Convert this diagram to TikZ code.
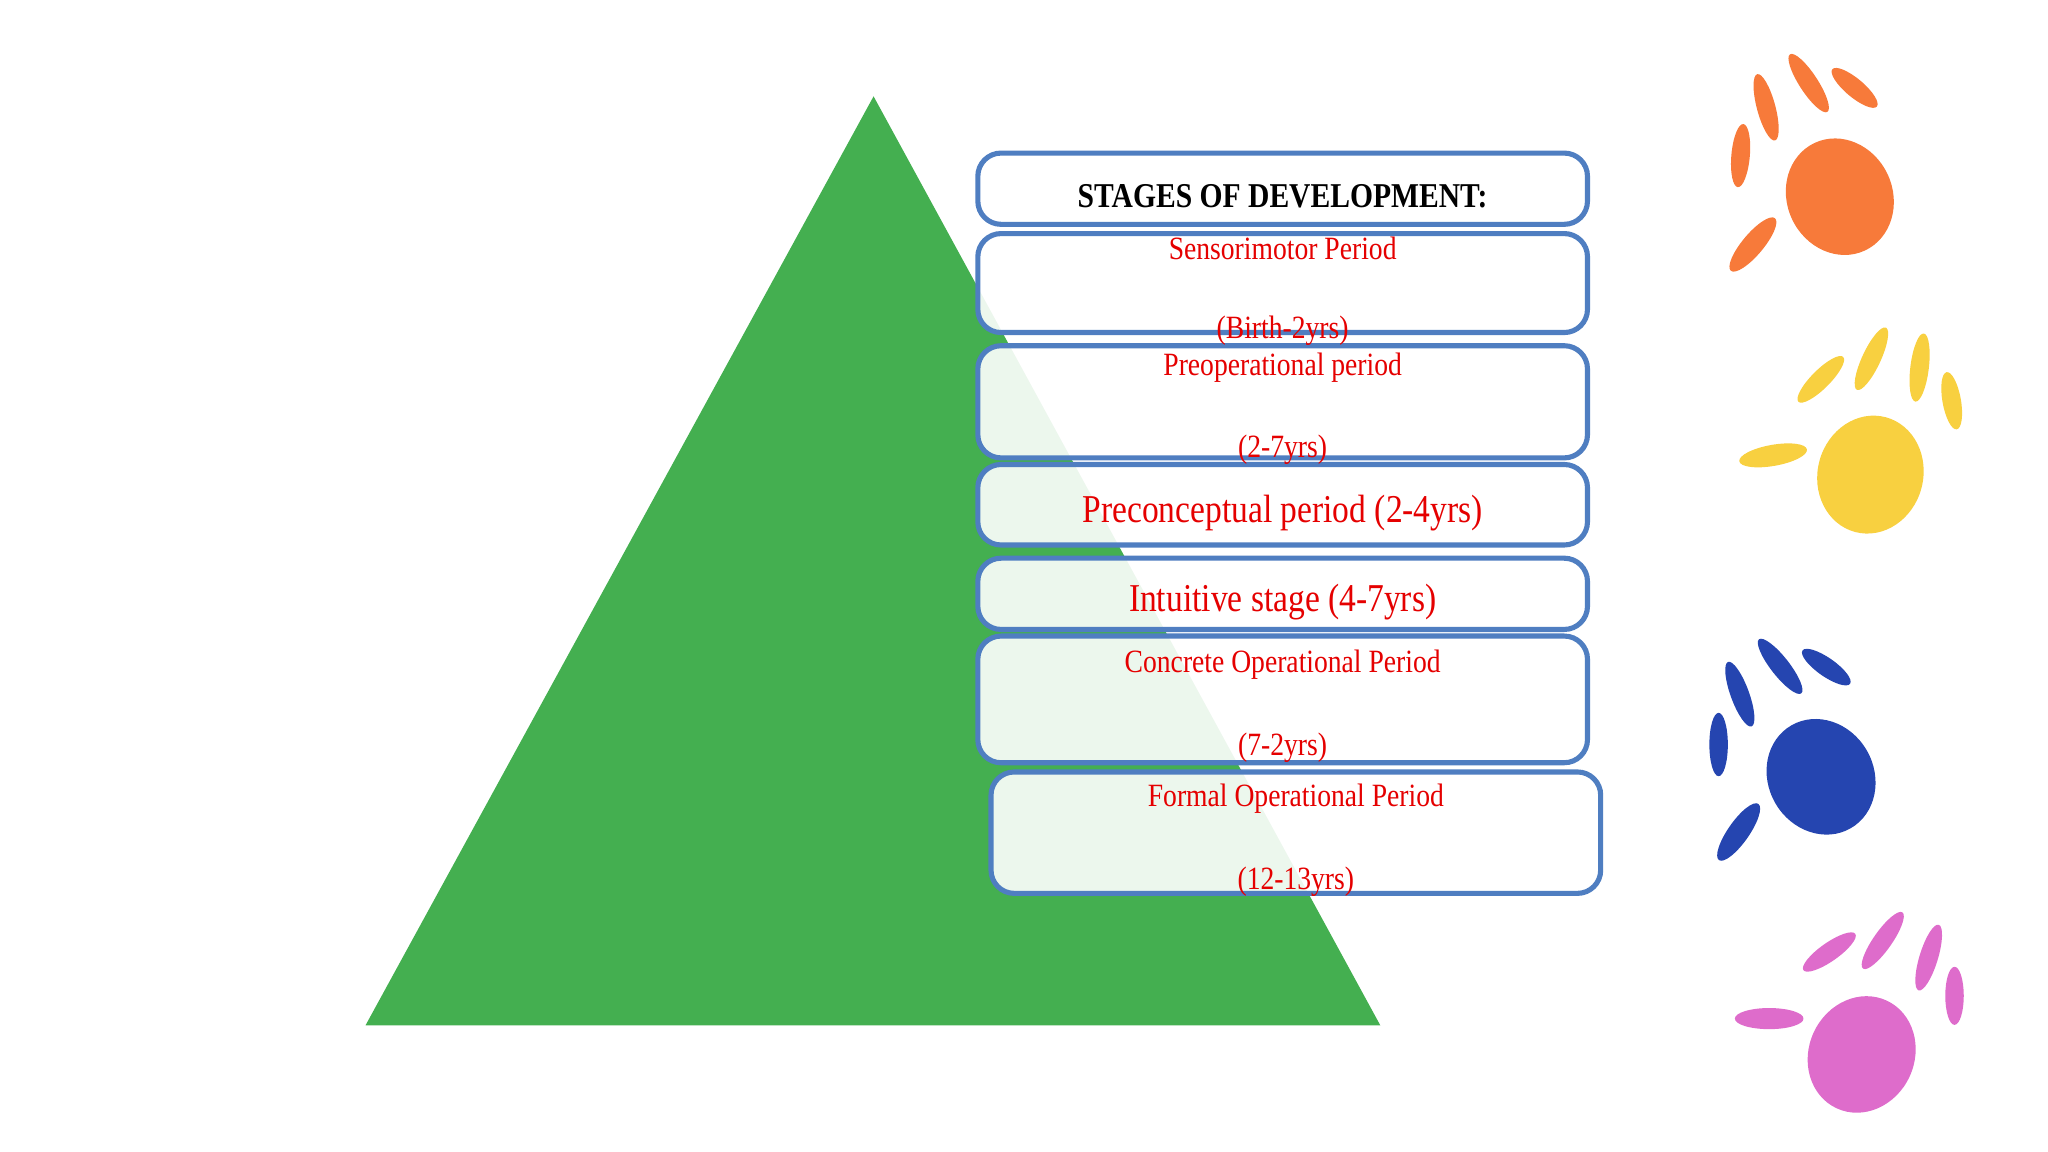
\documentclass[tikz,border=0pt]{standalone}
\usepackage{fontspec}
\setmainfont{Liberation Serif}
\begin{document}
\begin{tikzpicture}[x=0.01cm,y=-0.01cm,
  stagebox/.style={draw=boxblue,line width=1.1pt,rounded corners=5pt,fill=white,fill opacity=0.9},
  redt/.style={text=red!90!black,font=\fontsize{7}{8}\selectfont,xscale=0.85},
  bigt/.style={text=red!90!black,font=\fontsize{8.5}{9}\selectfont,xscale=0.85}]
\definecolor{boxblue}{HTML}{4F7EC1}
\definecolor{pgreen}{HTML}{44AF50}
\definecolor{horange}{HTML}{F77A3A}
\definecolor{hyellow}{HTML}{F8D040}
\definecolor{hblue}{HTML}{2545B0}
\definecolor{hpink}{HTML}{DE6CCB}
\useasboundingbox (0,0) rectangle (1552,873);
\fill[pgreen] (662,73) -- (1046,777) -- (277,777) -- cycle;
\draw[stagebox] (741,116) rectangle (1203,170);
\draw[stagebox] (741,177) rectangle (1203,252);
\draw[stagebox] (741,262) rectangle (1203,347);
\draw[stagebox] (741,352) rectangle (1203,413);
\draw[stagebox] (741,423) rectangle (1203,477);
\draw[stagebox] (741,482) rectangle (1203,578);
\draw[stagebox] (751,585) rectangle (1213,677);
\node[font=\bfseries\fontsize{7.5}{8}\selectfont,xscale=0.85] (t1) at (972,149) {STAGES OF DEVELOPMENT:};
\node[redt] (t2a) at (972,188) {Sensorimotor Period};
\node[redt] (t2b) at (972,251) {(Birth-2yrs)};
\node[redt] (t3a) at (972,279) {Preoperational period};
\node[redt] (t3b) at (972,341) {(2-7yrs)};
\node[bigt] (t4) at (972,389) {Preconceptual period (2-4yrs)};
\node[bigt] (t5) at (972,456) {Intuitive stage (4-7yrs)};
\node[redt] (t6a) at (972,504) {Concrete Operational Period};
\node[redt] (t6b) at (972,567) {(7-2yrs)};
\node[redt] (t7a) at (982,605) {Formal Operational Period};
\node[redt] (t7b) at (982,668) {(12-13yrs)};
% hands
\foreach \cx/\cy/\rot/\col in {1390/140/25/horange,1420/350/-15/hyellow,1375/580/30/hblue,1415/790/-25/hpink}{
 \begin{scope}[shift={(\cx,\cy)},rotate=\rot]
  \fill[\col] (0,10) ellipse (40 and 45);
  \fill[\col,rotate around={-30:(-55,-50)}] (-55,-50) ellipse (7 and 24);
  \fill[\col,rotate around={-10:(-22,-75)}] (-22,-75) ellipse (7 and 26);
  \fill[\col,rotate around={8:(15,-78)}] (15,-78) ellipse (7 and 26);
  \fill[\col,rotate around={25:(45,-60)}] (45,-60) ellipse (7 and 22);
  \fill[\col,rotate around={-65:(-75,15)}] (-75,15) ellipse (8 and 26);
 \end{scope}}
\end{tikzpicture}
\end{document}
